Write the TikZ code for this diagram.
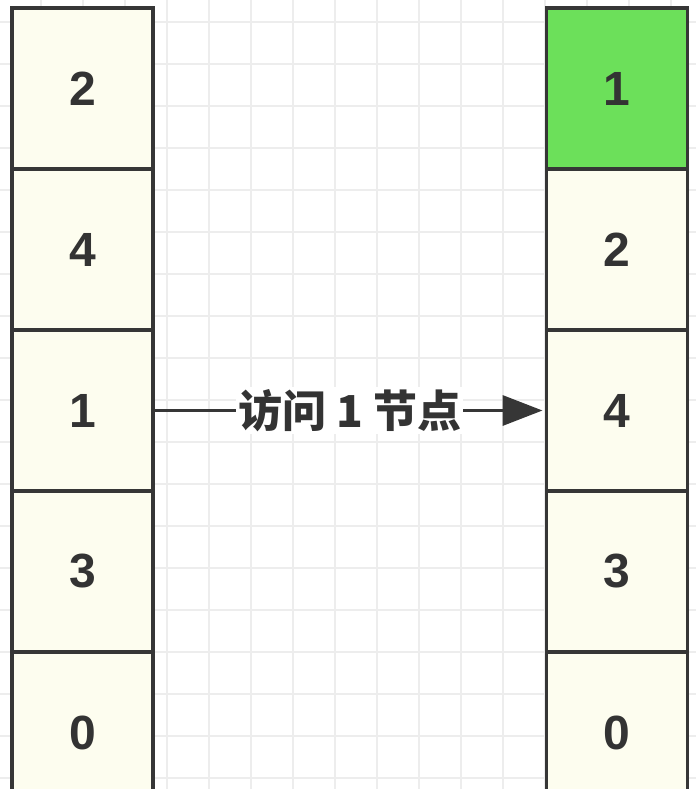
\documentclass[tikz,border=0pt]{standalone}
\usepackage{fontspec}
\setmainfont{Liberation Sans}
\newfontfamily\cjk{Noto Sans CJK SC}
\usepackage{tikz}
\usetikzlibrary{positioning, arrows.meta}
\definecolor{cellfill}{HTML}{FDFDEF}
\definecolor{cellline}{HTML}{363636}
\definecolor{visited}{HTML}{6CE05A}
\definecolor{gridline}{HTML}{EDEDED}
\definecolor{textdark}{HTML}{333333}
\tikzset{
  cell/.style={draw=cellline, fill=cellfill, line width=3.5pt,
    minimum width=141pt, minimum height=161pt, inner sep=0pt, outer sep=0pt,
    font=\fontsize{48}{48}\selectfont\bfseries, text=textdark},
  hit/.style={cell, fill=visited},
}

\begin{document}
\begin{tikzpicture}[x=1pt, y=-1pt]

    % Canvas and background grid
    \clip (0,0) rectangle (696,789);
    \fill[white] (0,0) rectangle (696,789);
    \foreach \x in {-1,41,...,713} \draw[gridline, line width=1.2pt] (\x,0) -- (\x,789);
    \foreach \y in {22,64,...,800} \draw[gridline, line width=1.2pt] (0,\y) -- (696,\y);

    % Stack before the visit
    \node[cell] (l0) at (82.5,88.5) {2};
    \node[cell, below=0pt of l0] (l1) {4};
    \node[cell, below=0pt of l1] (l2) {1};
    \node[cell, below=0pt of l2] (l3) {3};
    \node[cell, below=0pt of l3] (l4) {0};

    % Stack after the visit
    \node[hit] (r0) at (617,88.5) {1};
    \node[cell, below=0pt of r0] (r1) {2};
    \node[cell, below=0pt of r1] (r2) {4};
    \node[cell, below=0pt of r2] (r3) {3};
    \node[cell, below=0pt of r3] (r4) {0};

    % Visit arrow
    \draw[-{Triangle[length=40pt, width=30pt]}, cellline, line width=3.5pt, shorten >=4pt]
        (l2.east) -- node[fill=white, inner sep=2pt, text=textdark,
            font=\cjk\fontsize{44}{44}\selectfont\bfseries] {访问 1 节点} (r2.west);

\end{tikzpicture}
\end{document}
